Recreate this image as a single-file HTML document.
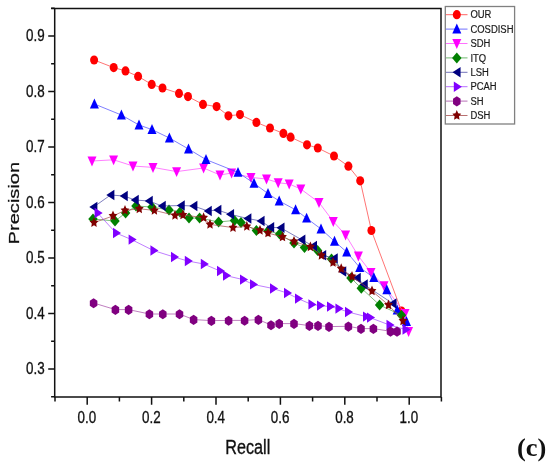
<!DOCTYPE html><html><head><meta charset="utf-8"><style>html,body{margin:0;padding:0;background:#fff;}svg{display:block;}</style></head><body>
<svg width="550" height="468" viewBox="0 0 550 468">
<rect width="550" height="468" fill="#fff"/>
<polyline points="94.1,60.0 113.7,67.6 125.5,70.9 138.1,76.4 151.7,84.4 162.5,88.0 179.0,93.4 188.0,96.6 203.0,104.4 216.6,106.6 228.4,115.8 240.0,114.6 256.4,122.4 270.0,128.0 283.4,133.4 290.6,137.2 307.0,144.8 317.8,148.0 334.0,156.0 348.4,166.2 360.2,180.8 371.4,230.5 401.5,311.0" fill="none" stroke="#ff3030" stroke-width="0.9" stroke-opacity="0.75"/>
<ellipse cx="94.1" cy="60.0" rx="4.00" ry="4.60" fill="#ff0000"/>
<ellipse cx="113.7" cy="67.6" rx="4.00" ry="4.60" fill="#ff0000"/>
<ellipse cx="125.5" cy="70.9" rx="4.00" ry="4.60" fill="#ff0000"/>
<ellipse cx="138.1" cy="76.4" rx="4.00" ry="4.60" fill="#ff0000"/>
<ellipse cx="151.7" cy="84.4" rx="4.00" ry="4.60" fill="#ff0000"/>
<ellipse cx="162.5" cy="88.0" rx="4.00" ry="4.60" fill="#ff0000"/>
<ellipse cx="179.0" cy="93.4" rx="4.00" ry="4.60" fill="#ff0000"/>
<ellipse cx="188.0" cy="96.6" rx="4.00" ry="4.60" fill="#ff0000"/>
<ellipse cx="203.0" cy="104.4" rx="4.00" ry="4.60" fill="#ff0000"/>
<ellipse cx="216.6" cy="106.6" rx="4.00" ry="4.60" fill="#ff0000"/>
<ellipse cx="228.4" cy="115.8" rx="4.00" ry="4.60" fill="#ff0000"/>
<ellipse cx="240.0" cy="114.6" rx="4.00" ry="4.60" fill="#ff0000"/>
<ellipse cx="256.4" cy="122.4" rx="4.00" ry="4.60" fill="#ff0000"/>
<ellipse cx="270.0" cy="128.0" rx="4.00" ry="4.60" fill="#ff0000"/>
<ellipse cx="283.4" cy="133.4" rx="4.00" ry="4.60" fill="#ff0000"/>
<ellipse cx="290.6" cy="137.2" rx="4.00" ry="4.60" fill="#ff0000"/>
<ellipse cx="307.0" cy="144.8" rx="4.00" ry="4.60" fill="#ff0000"/>
<ellipse cx="317.8" cy="148.0" rx="4.00" ry="4.60" fill="#ff0000"/>
<ellipse cx="334.0" cy="156.0" rx="4.00" ry="4.60" fill="#ff0000"/>
<ellipse cx="348.4" cy="166.2" rx="4.00" ry="4.60" fill="#ff0000"/>
<ellipse cx="360.2" cy="180.8" rx="4.00" ry="4.60" fill="#ff0000"/>
<ellipse cx="371.4" cy="230.5" rx="4.00" ry="4.60" fill="#ff0000"/>
<ellipse cx="401.5" cy="311.0" rx="4.00" ry="4.60" fill="#ff0000"/>
<polyline points="92.0,161.0 113.6,159.8 133.0,166.0 153.0,167.4 176.6,171.6 203.6,168.0 220.0,175.0 231.6,173.0 251.0,177.4 266.5,179.0 278.2,182.7 289.2,184.0 300.8,189.0 319.0,202.5 333.3,221.5 345.6,235.0 358.4,256.0 371.0,272.5 384.0,285.7 405.0,313.5 408.6,331.5" fill="none" stroke="#ff40ff" stroke-width="0.9" stroke-opacity="0.75"/>
<polygon points="92.00,166.50 96.49,156.60 87.51,156.60" fill="#ff00ff"/>
<polygon points="113.60,165.30 118.09,155.40 109.11,155.40" fill="#ff00ff"/>
<polygon points="133.00,171.50 137.49,161.60 128.51,161.60" fill="#ff00ff"/>
<polygon points="153.00,172.90 157.49,163.00 148.51,163.00" fill="#ff00ff"/>
<polygon points="176.60,177.10 181.09,167.20 172.11,167.20" fill="#ff00ff"/>
<polygon points="203.60,173.50 208.09,163.60 199.11,163.60" fill="#ff00ff"/>
<polygon points="220.00,180.50 224.49,170.60 215.51,170.60" fill="#ff00ff"/>
<polygon points="231.60,178.50 236.09,168.60 227.11,168.60" fill="#ff00ff"/>
<polygon points="251.00,182.90 255.49,173.00 246.51,173.00" fill="#ff00ff"/>
<polygon points="266.50,184.50 270.99,174.60 262.01,174.60" fill="#ff00ff"/>
<polygon points="278.20,188.20 282.69,178.30 273.71,178.30" fill="#ff00ff"/>
<polygon points="289.20,189.50 293.69,179.60 284.71,179.60" fill="#ff00ff"/>
<polygon points="300.80,194.50 305.29,184.60 296.31,184.60" fill="#ff00ff"/>
<polygon points="319.00,208.00 323.49,198.10 314.51,198.10" fill="#ff00ff"/>
<polygon points="333.30,227.00 337.79,217.10 328.81,217.10" fill="#ff00ff"/>
<polygon points="345.60,240.50 350.09,230.60 341.11,230.60" fill="#ff00ff"/>
<polygon points="358.40,261.50 362.89,251.60 353.91,251.60" fill="#ff00ff"/>
<polygon points="371.00,278.00 375.49,268.10 366.51,268.10" fill="#ff00ff"/>
<polygon points="384.00,291.20 388.49,281.30 379.51,281.30" fill="#ff00ff"/>
<polygon points="405.00,319.00 409.49,309.10 400.51,309.10" fill="#ff00ff"/>
<polygon points="408.60,337.00 413.09,327.10 404.11,327.10" fill="#ff00ff"/>
<polyline points="94.4,104.0 121.4,115.0 139.0,125.0 152.0,129.6 169.4,138.0 188.5,149.0 206.0,159.6 238.0,172.4 254.0,183.3 268.0,193.6 279.2,201.0 295.6,209.8 306.6,218.2 321.0,229.0 334.5,241.3 346.7,252.0 359.7,267.5 373.8,277.6 386.8,289.8 397.2,310.0 406.5,321.5" fill="none" stroke="#4040ff" stroke-width="0.9" stroke-opacity="0.75"/>
<polygon points="94.40,98.50 98.89,108.40 89.91,108.40" fill="#0000ff"/>
<polygon points="121.40,109.50 125.89,119.40 116.91,119.40" fill="#0000ff"/>
<polygon points="139.00,119.50 143.49,129.40 134.51,129.40" fill="#0000ff"/>
<polygon points="152.00,124.10 156.49,134.00 147.51,134.00" fill="#0000ff"/>
<polygon points="169.40,132.50 173.89,142.40 164.91,142.40" fill="#0000ff"/>
<polygon points="188.50,143.50 192.99,153.40 184.01,153.40" fill="#0000ff"/>
<polygon points="206.00,154.10 210.49,164.00 201.51,164.00" fill="#0000ff"/>
<polygon points="238.00,166.90 242.49,176.80 233.51,176.80" fill="#0000ff"/>
<polygon points="254.00,177.80 258.49,187.70 249.51,187.70" fill="#0000ff"/>
<polygon points="268.00,188.10 272.49,198.00 263.51,198.00" fill="#0000ff"/>
<polygon points="279.20,195.50 283.69,205.40 274.71,205.40" fill="#0000ff"/>
<polygon points="295.60,204.30 300.09,214.20 291.11,214.20" fill="#0000ff"/>
<polygon points="306.60,212.70 311.09,222.60 302.11,222.60" fill="#0000ff"/>
<polygon points="321.00,223.50 325.49,233.40 316.51,233.40" fill="#0000ff"/>
<polygon points="334.50,235.80 338.99,245.70 330.01,245.70" fill="#0000ff"/>
<polygon points="346.70,246.50 351.19,256.40 342.21,256.40" fill="#0000ff"/>
<polygon points="359.70,262.00 364.19,271.90 355.21,271.90" fill="#0000ff"/>
<polygon points="373.80,272.10 378.29,282.00 369.31,282.00" fill="#0000ff"/>
<polygon points="386.80,284.30 391.29,294.20 382.31,294.20" fill="#0000ff"/>
<polygon points="397.20,304.50 401.69,314.40 392.71,314.40" fill="#0000ff"/>
<polygon points="406.50,316.00 410.99,325.90 402.01,325.90" fill="#0000ff"/>
<polyline points="93.0,219.0 115.0,221.0 125.6,213.0 136.0,206.0 152.0,207.0 169.0,210.0 180.0,212.0 189.0,218.0 199.6,218.0 218.6,222.0 234.5,220.4 241.0,222.5 256.4,230.5 268.0,231.0 279.6,234.0 294.0,243.0 304.5,247.5 317.6,250.4 331.5,259.0 351.0,278.0 361.3,288.2 379.6,305.0 401.5,315.2" fill="none" stroke="#40a040" stroke-width="0.9" stroke-opacity="0.75"/>
<polygon points="93.00,213.50 97.73,219.00 93.00,224.50 88.27,219.00" fill="#008000"/>
<polygon points="115.00,215.50 119.73,221.00 115.00,226.50 110.27,221.00" fill="#008000"/>
<polygon points="125.60,207.50 130.33,213.00 125.60,218.50 120.87,213.00" fill="#008000"/>
<polygon points="136.00,200.50 140.73,206.00 136.00,211.50 131.27,206.00" fill="#008000"/>
<polygon points="152.00,201.50 156.73,207.00 152.00,212.50 147.27,207.00" fill="#008000"/>
<polygon points="169.00,204.50 173.73,210.00 169.00,215.50 164.27,210.00" fill="#008000"/>
<polygon points="180.00,206.50 184.73,212.00 180.00,217.50 175.27,212.00" fill="#008000"/>
<polygon points="189.00,212.50 193.73,218.00 189.00,223.50 184.27,218.00" fill="#008000"/>
<polygon points="199.60,212.50 204.33,218.00 199.60,223.50 194.87,218.00" fill="#008000"/>
<polygon points="218.60,216.50 223.33,222.00 218.60,227.50 213.87,222.00" fill="#008000"/>
<polygon points="234.50,214.90 239.23,220.40 234.50,225.90 229.77,220.40" fill="#008000"/>
<polygon points="241.00,217.00 245.73,222.50 241.00,228.00 236.27,222.50" fill="#008000"/>
<polygon points="256.40,225.00 261.13,230.50 256.40,236.00 251.67,230.50" fill="#008000"/>
<polygon points="268.00,225.50 272.73,231.00 268.00,236.50 263.27,231.00" fill="#008000"/>
<polygon points="279.60,228.50 284.33,234.00 279.60,239.50 274.87,234.00" fill="#008000"/>
<polygon points="294.00,237.50 298.73,243.00 294.00,248.50 289.27,243.00" fill="#008000"/>
<polygon points="304.50,242.00 309.23,247.50 304.50,253.00 299.77,247.50" fill="#008000"/>
<polygon points="317.60,244.90 322.33,250.40 317.60,255.90 312.87,250.40" fill="#008000"/>
<polygon points="331.50,253.50 336.23,259.00 331.50,264.50 326.77,259.00" fill="#008000"/>
<polygon points="351.00,272.50 355.73,278.00 351.00,283.50 346.27,278.00" fill="#008000"/>
<polygon points="361.30,282.70 366.03,288.20 361.30,293.70 356.57,288.20" fill="#008000"/>
<polygon points="379.60,299.50 384.33,305.00 379.60,310.50 374.87,305.00" fill="#008000"/>
<polygon points="401.50,309.70 406.23,315.20 401.50,320.70 396.77,315.20" fill="#008000"/>
<polyline points="93.6,207.0 110.6,195.0 124.0,196.0 135.0,200.0 149.0,201.0 162.0,206.0 181.0,205.5 193.6,206.0 208.0,211.0 217.6,210.0 230.3,214.3 247.6,218.5 260.8,221.0 270.4,227.3 280.7,227.8 301.6,239.7 313.2,246.0 322.4,255.3 334.0,258.4 342.5,271.5 357.0,278.0 364.0,284.5 392.8,303.5" fill="none" stroke="#4040a0" stroke-width="0.9" stroke-opacity="0.75"/>
<polygon points="89.34,207.00 97.38,201.78 97.38,212.22" fill="#000080"/>
<polygon points="106.34,195.00 114.38,189.78 114.38,200.22" fill="#000080"/>
<polygon points="119.74,196.00 127.78,190.78 127.78,201.22" fill="#000080"/>
<polygon points="130.74,200.00 138.78,194.78 138.78,205.22" fill="#000080"/>
<polygon points="144.74,201.00 152.78,195.78 152.78,206.22" fill="#000080"/>
<polygon points="157.74,206.00 165.78,200.78 165.78,211.22" fill="#000080"/>
<polygon points="176.74,205.50 184.78,200.28 184.78,210.72" fill="#000080"/>
<polygon points="189.34,206.00 197.38,200.78 197.38,211.22" fill="#000080"/>
<polygon points="203.74,211.00 211.78,205.78 211.78,216.22" fill="#000080"/>
<polygon points="213.34,210.00 221.38,204.78 221.38,215.22" fill="#000080"/>
<polygon points="226.04,214.30 234.08,209.08 234.08,219.53" fill="#000080"/>
<polygon points="243.34,218.50 251.38,213.28 251.38,223.72" fill="#000080"/>
<polygon points="256.54,221.00 264.58,215.78 264.58,226.22" fill="#000080"/>
<polygon points="266.14,227.30 274.18,222.08 274.18,232.53" fill="#000080"/>
<polygon points="276.44,227.80 284.48,222.58 284.48,233.03" fill="#000080"/>
<polygon points="297.34,239.70 305.38,234.47 305.38,244.92" fill="#000080"/>
<polygon points="308.94,246.00 316.98,240.78 316.98,251.22" fill="#000080"/>
<polygon points="318.14,255.30 326.18,250.08 326.18,260.53" fill="#000080"/>
<polygon points="329.74,258.40 337.78,253.17 337.78,263.62" fill="#000080"/>
<polygon points="338.24,271.50 346.28,266.27 346.28,276.73" fill="#000080"/>
<polygon points="352.74,278.00 360.78,272.77 360.78,283.23" fill="#000080"/>
<polygon points="359.74,284.50 367.78,279.27 367.78,289.73" fill="#000080"/>
<polygon points="388.54,303.50 396.58,298.27 396.58,308.73" fill="#000080"/>
<polyline points="94.0,222.6 113.0,216.0 125.0,210.4 139.3,208.8 154.4,210.4 175.0,215.4 183.0,215.0 203.6,217.6 210.0,224.4 233.0,227.6 246.8,226.4 260.0,230.3 268.0,233.0 282.5,237.0 294.0,241.5 310.4,246.8 321.4,255.4 333.0,262.5 341.2,268.7 352.0,276.5 372.0,291.0 388.5,305.0 403.0,321.0" fill="none" stroke="#a04040" stroke-width="0.9" stroke-opacity="0.75"/>
<polygon points="94.00,217.21 95.36,220.42 98.41,220.93 96.20,223.43 96.72,226.96 94.00,225.29 91.28,226.96 91.80,223.43 89.59,220.93 92.64,220.42" fill="#800000"/>
<polygon points="113.00,210.61 114.36,213.82 117.41,214.33 115.20,216.83 115.72,220.36 113.00,218.69 110.28,220.36 110.80,216.83 108.59,214.33 111.64,213.82" fill="#800000"/>
<polygon points="125.00,205.01 126.36,208.22 129.41,208.73 127.20,211.23 127.72,214.76 125.00,213.09 122.28,214.76 122.80,211.23 120.59,208.73 123.64,208.22" fill="#800000"/>
<polygon points="139.30,203.41 140.66,206.62 143.71,207.13 141.50,209.63 142.02,213.16 139.30,211.50 136.58,213.16 137.10,209.63 134.89,207.13 137.94,206.62" fill="#800000"/>
<polygon points="154.40,205.01 155.76,208.22 158.81,208.73 156.60,211.23 157.12,214.76 154.40,213.09 151.68,214.76 152.20,211.23 149.99,208.73 153.04,208.22" fill="#800000"/>
<polygon points="175.00,210.01 176.36,213.22 179.41,213.73 177.20,216.23 177.72,219.76 175.00,218.09 172.28,219.76 172.80,216.23 170.59,213.73 173.64,213.22" fill="#800000"/>
<polygon points="183.00,209.61 184.36,212.82 187.41,213.33 185.20,215.83 185.72,219.36 183.00,217.69 180.28,219.36 180.80,215.83 178.59,213.33 181.64,212.82" fill="#800000"/>
<polygon points="203.60,212.21 204.96,215.42 208.01,215.93 205.80,218.43 206.32,221.96 203.60,220.29 200.88,221.96 201.40,218.43 199.19,215.93 202.24,215.42" fill="#800000"/>
<polygon points="210.00,219.01 211.36,222.22 214.41,222.73 212.20,225.23 212.72,228.76 210.00,227.09 207.28,228.76 207.80,225.23 205.59,222.73 208.64,222.22" fill="#800000"/>
<polygon points="233.00,222.21 234.36,225.42 237.41,225.93 235.20,228.43 235.72,231.96 233.00,230.29 230.28,231.96 230.80,228.43 228.59,225.93 231.64,225.42" fill="#800000"/>
<polygon points="246.80,221.01 248.16,224.22 251.21,224.73 249.00,227.23 249.52,230.76 246.80,229.09 244.08,230.76 244.60,227.23 242.39,224.73 245.44,224.22" fill="#800000"/>
<polygon points="260.00,224.91 261.36,228.12 264.41,228.63 262.20,231.13 262.72,234.66 260.00,233.00 257.28,234.66 257.80,231.13 255.59,228.63 258.64,228.12" fill="#800000"/>
<polygon points="268.00,227.61 269.36,230.82 272.41,231.33 270.20,233.83 270.72,237.36 268.00,235.69 265.28,237.36 265.80,233.83 263.59,231.33 266.64,230.82" fill="#800000"/>
<polygon points="282.50,231.61 283.86,234.82 286.91,235.33 284.70,237.83 285.22,241.36 282.50,239.69 279.78,241.36 280.30,237.83 278.09,235.33 281.14,234.82" fill="#800000"/>
<polygon points="294.00,236.11 295.36,239.32 298.41,239.83 296.20,242.33 296.72,245.86 294.00,244.19 291.28,245.86 291.80,242.33 289.59,239.83 292.64,239.32" fill="#800000"/>
<polygon points="310.40,241.41 311.76,244.62 314.81,245.13 312.60,247.63 313.12,251.16 310.40,249.50 307.68,251.16 308.20,247.63 305.99,245.13 309.04,244.62" fill="#800000"/>
<polygon points="321.40,250.01 322.76,253.22 325.81,253.73 323.60,256.23 324.12,259.76 321.40,258.10 318.68,259.76 319.20,256.23 316.99,253.73 320.04,253.22" fill="#800000"/>
<polygon points="333.00,257.11 334.36,260.32 337.41,260.83 335.20,263.33 335.72,266.86 333.00,265.19 330.28,266.86 330.80,263.33 328.59,260.83 331.64,260.32" fill="#800000"/>
<polygon points="341.20,263.31 342.56,266.52 345.61,267.03 343.40,269.53 343.92,273.06 341.20,271.39 338.48,273.06 339.00,269.53 336.79,267.03 339.84,266.52" fill="#800000"/>
<polygon points="352.00,271.11 353.36,274.32 356.41,274.83 354.20,277.33 354.72,280.86 352.00,279.19 349.28,280.86 349.80,277.33 347.59,274.83 350.64,274.32" fill="#800000"/>
<polygon points="372.00,285.61 373.36,288.82 376.41,289.33 374.20,291.83 374.72,295.36 372.00,293.69 369.28,295.36 369.80,291.83 367.59,289.33 370.64,288.82" fill="#800000"/>
<polygon points="388.50,299.61 389.86,302.82 392.91,303.33 390.70,305.83 391.22,309.36 388.50,307.69 385.78,309.36 386.30,305.83 384.09,303.33 387.14,302.82" fill="#800000"/>
<polygon points="403.00,315.61 404.36,318.82 407.41,319.33 405.20,321.83 405.72,325.36 403.00,323.69 400.28,325.36 400.80,321.83 398.59,319.33 401.64,318.82" fill="#800000"/>
<polyline points="97.6,213.0 116.0,233.0 131.6,239.6 153.4,250.5 174.0,257.0 187.8,261.0 203.8,264.0 220.0,271.0 226.0,275.6 243.0,279.6 253.0,284.4 273.0,288.5 287.0,293.0 298.0,298.6 311.4,304.4 320.0,305.6 330.0,306.6 338.4,308.6 348.0,312.0 366.0,316.6 370.0,317.6 389.5,325.0 405.5,329.5" fill="none" stroke="#a040ff" stroke-width="0.9" stroke-opacity="0.75"/>
<polygon points="102.66,213.00 94.62,207.78 94.62,218.22" fill="#8000ff"/>
<polygon points="121.06,233.00 113.02,227.78 113.02,238.22" fill="#8000ff"/>
<polygon points="136.66,239.60 128.62,234.38 128.62,244.82" fill="#8000ff"/>
<polygon points="158.46,250.50 150.42,245.28 150.42,255.72" fill="#8000ff"/>
<polygon points="179.06,257.00 171.02,251.78 171.02,262.23" fill="#8000ff"/>
<polygon points="192.86,261.00 184.82,255.78 184.82,266.23" fill="#8000ff"/>
<polygon points="208.86,264.00 200.82,258.77 200.82,269.23" fill="#8000ff"/>
<polygon points="225.06,271.00 217.02,265.77 217.02,276.23" fill="#8000ff"/>
<polygon points="231.06,275.60 223.02,270.38 223.02,280.83" fill="#8000ff"/>
<polygon points="248.06,279.60 240.02,274.38 240.02,284.83" fill="#8000ff"/>
<polygon points="258.06,284.40 250.02,279.17 250.02,289.62" fill="#8000ff"/>
<polygon points="278.06,288.50 270.02,283.27 270.02,293.73" fill="#8000ff"/>
<polygon points="292.06,293.00 284.02,287.77 284.02,298.23" fill="#8000ff"/>
<polygon points="303.06,298.60 295.02,293.38 295.02,303.83" fill="#8000ff"/>
<polygon points="316.46,304.40 308.42,299.17 308.42,309.62" fill="#8000ff"/>
<polygon points="325.06,305.60 317.02,300.38 317.02,310.83" fill="#8000ff"/>
<polygon points="335.06,306.60 327.02,301.38 327.02,311.83" fill="#8000ff"/>
<polygon points="343.46,308.60 335.42,303.38 335.42,313.83" fill="#8000ff"/>
<polygon points="353.06,312.00 345.02,306.77 345.02,317.23" fill="#8000ff"/>
<polygon points="371.06,316.60 363.02,311.38 363.02,321.83" fill="#8000ff"/>
<polygon points="375.06,317.60 367.02,312.38 367.02,322.83" fill="#8000ff"/>
<polygon points="394.56,325.00 386.52,319.77 386.52,330.23" fill="#8000ff"/>
<polygon points="410.56,329.50 402.52,324.27 402.52,334.73" fill="#8000ff"/>
<polyline points="93.6,303.0 115.4,309.6 128.6,309.6 149.4,314.0 162.8,314.0 179.5,314.0 193.6,319.6 211.4,320.6 228.6,320.4 244.6,320.4 258.4,319.6 271.0,325.0 279.2,323.6 294.0,323.6 309.4,325.6 318.0,325.6 329.0,326.6 348.4,326.3 361.0,328.6 373.4,328.6 390.5,331.3 397.0,331.3" fill="none" stroke="#a040a0" stroke-width="0.9" stroke-opacity="0.75"/>
<polygon points="93.60,298.24 97.37,300.77 97.37,305.83 93.60,308.36 89.83,305.83 89.83,300.77" fill="#800080"/>
<polygon points="115.40,304.84 119.17,307.37 119.17,312.43 115.40,314.96 111.63,312.43 111.63,307.37" fill="#800080"/>
<polygon points="128.60,304.84 132.37,307.37 132.37,312.43 128.60,314.96 124.83,312.43 124.83,307.37" fill="#800080"/>
<polygon points="149.40,309.24 153.17,311.77 153.17,316.83 149.40,319.36 145.63,316.83 145.63,311.77" fill="#800080"/>
<polygon points="162.80,309.24 166.57,311.77 166.57,316.83 162.80,319.36 159.03,316.83 159.03,311.77" fill="#800080"/>
<polygon points="179.50,309.24 183.27,311.77 183.27,316.83 179.50,319.36 175.73,316.83 175.73,311.77" fill="#800080"/>
<polygon points="193.60,314.84 197.37,317.37 197.37,322.43 193.60,324.96 189.83,322.43 189.83,317.37" fill="#800080"/>
<polygon points="211.40,315.84 215.17,318.37 215.17,323.43 211.40,325.96 207.63,323.43 207.63,318.37" fill="#800080"/>
<polygon points="228.60,315.64 232.37,318.17 232.37,323.23 228.60,325.76 224.83,323.23 224.83,318.17" fill="#800080"/>
<polygon points="244.60,315.64 248.37,318.17 248.37,323.23 244.60,325.76 240.83,323.23 240.83,318.17" fill="#800080"/>
<polygon points="258.40,314.84 262.17,317.37 262.17,322.43 258.40,324.96 254.63,322.43 254.63,317.37" fill="#800080"/>
<polygon points="271.00,320.24 274.77,322.77 274.77,327.83 271.00,330.36 267.23,327.83 267.23,322.77" fill="#800080"/>
<polygon points="279.20,318.84 282.97,321.37 282.97,326.43 279.20,328.96 275.43,326.43 275.43,321.37" fill="#800080"/>
<polygon points="294.00,318.84 297.77,321.37 297.77,326.43 294.00,328.96 290.23,326.43 290.23,321.37" fill="#800080"/>
<polygon points="309.40,320.84 313.17,323.37 313.17,328.43 309.40,330.96 305.63,328.43 305.63,323.37" fill="#800080"/>
<polygon points="318.00,320.84 321.77,323.37 321.77,328.43 318.00,330.96 314.23,328.43 314.23,323.37" fill="#800080"/>
<polygon points="329.00,321.84 332.77,324.37 332.77,329.43 329.00,331.96 325.23,329.43 325.23,324.37" fill="#800080"/>
<polygon points="348.40,321.54 352.17,324.07 352.17,329.13 348.40,331.66 344.63,329.13 344.63,324.07" fill="#800080"/>
<polygon points="361.00,323.84 364.77,326.37 364.77,331.43 361.00,333.96 357.23,331.43 357.23,326.37" fill="#800080"/>
<polygon points="373.40,323.84 377.17,326.37 377.17,331.43 373.40,333.96 369.63,331.43 369.63,326.37" fill="#800080"/>
<polygon points="390.50,326.54 394.27,329.07 394.27,334.13 390.50,336.66 386.73,334.13 386.73,329.07" fill="#800080"/>
<polygon points="397.00,326.54 400.77,329.07 400.77,334.13 397.00,336.66 393.23,334.13 393.23,329.07" fill="#800080"/>
<path d="M51.1,8.6H441.0V397.0H54.7V8.6" fill="none" stroke="#111" stroke-width="1.5"/>
<path d="M51.1,396.8H54.7 M48.2,369.0H54.7 M51.1,341.2H54.7 M48.2,313.5H54.7 M51.1,285.8H54.7 M48.2,258.0H54.7 M51.1,230.2H54.7 M48.2,202.5H54.7 M51.1,174.8H54.7 M48.2,147.0H54.7 M51.1,119.3H54.7 M48.2,91.5H54.7 M51.1,63.7H54.7 M48.2,36.0H54.7 M51.1,8.2H54.7 M55.0,397.0V401.5 M87.2,397.0V404.8 M119.4,397.0V401.5 M151.6,397.0V404.8 M183.8,397.0V401.5 M216.0,397.0V404.8 M248.2,397.0V401.5 M280.4,397.0V404.8 M312.6,397.0V401.5 M344.8,397.0V404.8 M377.0,397.0V401.5 M409.2,397.0V404.8 M441.4,397.0V401.5" fill="none" stroke="#111" stroke-width="1.5"/>
<text transform="translate(44.6,374.2) scale(0.86,1)" text-anchor="end" font-family="Liberation Sans, Arial, sans-serif" font-size="15.6" fill="#111" stroke="#111" stroke-width="0.3">0.3</text>
<text transform="translate(44.6,318.7) scale(0.86,1)" text-anchor="end" font-family="Liberation Sans, Arial, sans-serif" font-size="15.6" fill="#111" stroke="#111" stroke-width="0.3">0.4</text>
<text transform="translate(44.6,263.2) scale(0.86,1)" text-anchor="end" font-family="Liberation Sans, Arial, sans-serif" font-size="15.6" fill="#111" stroke="#111" stroke-width="0.3">0.5</text>
<text transform="translate(44.6,207.7) scale(0.86,1)" text-anchor="end" font-family="Liberation Sans, Arial, sans-serif" font-size="15.6" fill="#111" stroke="#111" stroke-width="0.3">0.6</text>
<text transform="translate(44.6,152.2) scale(0.86,1)" text-anchor="end" font-family="Liberation Sans, Arial, sans-serif" font-size="15.6" fill="#111" stroke="#111" stroke-width="0.3">0.7</text>
<text transform="translate(44.6,96.7) scale(0.86,1)" text-anchor="end" font-family="Liberation Sans, Arial, sans-serif" font-size="15.6" fill="#111" stroke="#111" stroke-width="0.3">0.8</text>
<text transform="translate(44.6,41.2) scale(0.86,1)" text-anchor="end" font-family="Liberation Sans, Arial, sans-serif" font-size="15.6" fill="#111" stroke="#111" stroke-width="0.3">0.9</text>
<text transform="translate(86.9,423.2) scale(0.86,1)" text-anchor="middle" font-family="Liberation Sans, Arial, sans-serif" font-size="15.6" fill="#111" stroke="#111" stroke-width="0.3">0.0</text>
<text transform="translate(151.3,423.2) scale(0.86,1)" text-anchor="middle" font-family="Liberation Sans, Arial, sans-serif" font-size="15.6" fill="#111" stroke="#111" stroke-width="0.3">0.2</text>
<text transform="translate(215.7,423.2) scale(0.86,1)" text-anchor="middle" font-family="Liberation Sans, Arial, sans-serif" font-size="15.6" fill="#111" stroke="#111" stroke-width="0.3">0.4</text>
<text transform="translate(280.1,423.2) scale(0.86,1)" text-anchor="middle" font-family="Liberation Sans, Arial, sans-serif" font-size="15.6" fill="#111" stroke="#111" stroke-width="0.3">0.6</text>
<text transform="translate(344.5,423.2) scale(0.86,1)" text-anchor="middle" font-family="Liberation Sans, Arial, sans-serif" font-size="15.6" fill="#111" stroke="#111" stroke-width="0.3">0.8</text>
<text transform="translate(408.9,423.2) scale(0.86,1)" text-anchor="middle" font-family="Liberation Sans, Arial, sans-serif" font-size="15.6" fill="#111" stroke="#111" stroke-width="0.3">1.0</text>
<text transform="translate(247.8,453.6) scale(0.81,1)" text-anchor="middle" font-family="Liberation Sans, Arial, sans-serif" font-size="20" fill="#111" stroke="#111" stroke-width="0.35">Recall</text>
<text transform="translate(19.2,203.1) rotate(-90) scale(1.005,0.76)" text-anchor="middle" font-family="Liberation Sans, Arial, sans-serif" font-size="20" fill="#111" stroke="#111" stroke-width="0.35">Precision</text>
<text transform="translate(517,456) scale(1.08,1)" font-family="Liberation Serif, Times New Roman, serif" font-weight="bold" font-size="24.5" fill="#111">(c)</text>
<rect x="445.3" y="6.5" width="69.3" height="117.5" fill="#fff" stroke="#808080" stroke-width="1.3"/>
<line x1="446" y1="14.7" x2="467.5" y2="14.7" stroke="#ff3030" stroke-width="1" stroke-opacity="0.75"/>
<ellipse cx="456.8" cy="14.7" rx="4.00" ry="4.60" fill="#ff0000"/>
<text transform="translate(470.4,18.4) scale(0.86,1)" font-family="Liberation Sans, Arial, sans-serif" font-size="11" fill="#1a1a1a" stroke="#1a1a1a" stroke-width="0.2">OUR</text>
<line x1="446" y1="29.1" x2="467.5" y2="29.1" stroke="#4040ff" stroke-width="1" stroke-opacity="0.75"/>
<polygon points="456.80,23.60 461.29,33.50 452.31,33.50" fill="#0000ff"/>
<text transform="translate(470.4,32.8) scale(0.86,1)" font-family="Liberation Sans, Arial, sans-serif" font-size="11" fill="#1a1a1a" stroke="#1a1a1a" stroke-width="0.2">COSDISH</text>
<line x1="446" y1="43.5" x2="467.5" y2="43.5" stroke="#ff40ff" stroke-width="1" stroke-opacity="0.75"/>
<polygon points="456.80,49.00 461.29,39.10 452.31,39.10" fill="#ff00ff"/>
<text transform="translate(470.4,47.2) scale(0.86,1)" font-family="Liberation Sans, Arial, sans-serif" font-size="11" fill="#1a1a1a" stroke="#1a1a1a" stroke-width="0.2">SDH</text>
<line x1="446" y1="57.9" x2="467.5" y2="57.9" stroke="#40a040" stroke-width="1" stroke-opacity="0.75"/>
<polygon points="456.80,52.40 461.53,57.90 456.80,63.40 452.07,57.90" fill="#008000"/>
<text transform="translate(470.4,61.6) scale(0.86,1)" font-family="Liberation Sans, Arial, sans-serif" font-size="11" fill="#1a1a1a" stroke="#1a1a1a" stroke-width="0.2">ITQ</text>
<line x1="446" y1="72.3" x2="467.5" y2="72.3" stroke="#4040a0" stroke-width="1" stroke-opacity="0.75"/>
<polygon points="452.54,72.30 460.58,67.08 460.58,77.52" fill="#000080"/>
<text transform="translate(470.4,76.0) scale(0.86,1)" font-family="Liberation Sans, Arial, sans-serif" font-size="11" fill="#1a1a1a" stroke="#1a1a1a" stroke-width="0.2">LSH</text>
<line x1="446" y1="86.7" x2="467.5" y2="86.7" stroke="#a040ff" stroke-width="1" stroke-opacity="0.75"/>
<polygon points="461.86,86.70 453.82,81.48 453.82,91.92" fill="#8000ff"/>
<text transform="translate(470.4,90.4) scale(0.86,1)" font-family="Liberation Sans, Arial, sans-serif" font-size="11" fill="#1a1a1a" stroke="#1a1a1a" stroke-width="0.2">PCAH</text>
<line x1="446" y1="101.1" x2="467.5" y2="101.1" stroke="#a040a0" stroke-width="1" stroke-opacity="0.75"/>
<polygon points="456.80,96.34 460.57,98.87 460.57,103.93 456.80,106.46 453.03,103.93 453.03,98.87" fill="#800080"/>
<text transform="translate(470.4,104.8) scale(0.86,1)" font-family="Liberation Sans, Arial, sans-serif" font-size="11" fill="#1a1a1a" stroke="#1a1a1a" stroke-width="0.2">SH</text>
<line x1="446" y1="115.5" x2="467.5" y2="115.5" stroke="#a04040" stroke-width="1" stroke-opacity="0.75"/>
<polygon points="456.80,110.11 458.16,113.32 461.21,113.83 459.00,116.33 459.52,119.86 456.80,118.19 454.08,119.86 454.60,116.33 452.39,113.83 455.44,113.32" fill="#800000"/>
<text transform="translate(470.4,119.2) scale(0.86,1)" font-family="Liberation Sans, Arial, sans-serif" font-size="11" fill="#1a1a1a" stroke="#1a1a1a" stroke-width="0.2">DSH</text>
</svg></body></html>
